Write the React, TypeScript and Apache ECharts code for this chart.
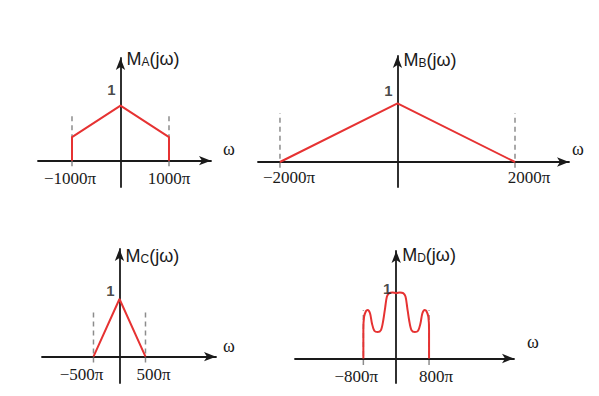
import React, { useEffect, useRef } from "react";
import * as echarts from "echarts";

// ---------- data (ω in units of π, magnitude) ----------
const panelKeys = ["A", "B", "C", "D"];

const omegaA = [-1000, -1000, 0, 1000, 1000];
const magA = [0, 0.43, 1, 0.43, 0];

const omegaB = [-2000, 0, 2000];
const magB = [0, 1, 0];

const omegaC = [-500, 0, 500];
const magC = [0, 1, 0];

const omegaD = [-800, -800, -783, -735, -695, -638, -590, -533, -453, -372, -315, -267, -226, -170, -90, 0, 90, 170, 226, 267, 315, 372, 453, 533, 590, 638, 695, 735, 783, 800, 800];
const magD = [0, 0.43, 0.63, 0.72, 0.735, 0.685, 0.53, 0.42, 0.4, 0.43, 0.58, 0.78, 0.94, 0.99, 1.0, 0.99, 1.0, 0.99, 0.94, 0.78, 0.58, 0.43, 0.4, 0.42, 0.53, 0.685, 0.735, 0.72, 0.63, 0.43, 0];

const ticksA = [-1000, 1000];
const ticksB = [-2000, 2000];
const ticksC = [-500, 500];
const ticksD = [-800, 800];

const tickLabelsA = ["−1000π", "1000π"];
const tickLabelsB = ["−2000π", "2000π"];
const tickLabelsC = ["−500π", "500π"];
const tickLabelsD = ["−800π", "800π"];

const dashTopA = 0.81;
const dashTopB = 0.83;
const dashTopC = 0.81;
const dashTopD = 0.73;
const dashBottom = -0.1;

const peakLabel = "1";

// ---------- layout / styles ----------
const RED = "#e63232";
const AXIS = "#1a1a1a";
const DASH = "#8c8c8c";
const SERIF = "Liberation Serif";
const SANS = "Liberation Sans";

const panels: any = {
  A: { omega: omegaA, mag: magA, ticks: ticksA, tickLabels: tickLabelsA, dashTop: dashTopA,
       left: 38, top: 58, width: 173, height: 129, xMin: -1701, xMax: 1866, yMin: -0.478, yMax: 1.867,
       xNameGap: 12, xNamePad: 3.5, yNameGap: 0, onePos: [-9, -16], labelMargin: 9, negShift: -2, posShift: 0 },
  B: { omega: omegaB, mag: magB, ticks: ticksB, tickLabels: tickLabelsB, dashTop: dashTopB,
       left: 258, top: 56, width: 311, height: 131, xMin: -2374, xMax: 2919, yMin: -0.426, yMax: 1.806,
       xNameGap: 3, xNamePad: 5, yNameGap: -3, onePos: [-9, -13], labelMargin: 7, negShift: 9, posShift: 14 },
  C: { omega: omegaC, mag: magC, ticks: ticksC, tickLabels: tickLabelsC, dashTop: dashTopC,
       left: 42, top: 249, width: 174, height: 134, xMin: -1490, xMax: 1856, yMin: -0.456, yMax: 1.867,
       xNameGap: 7, xNamePad: 2.5, yNameGap: -6, onePos: [-9, -9], labelMargin: 9, negShift: -12, posShift: 8 },
  D: { omega: omegaD, mag: magD, ticks: ticksD, tickLabels: tickLabelsD, dashTop: dashTopD,
       left: 295, top: 251, width: 219, height: 132, xMin: -2465, xMax: 2869, yMin: -0.371, yMax: 1.629,
       xNameGap: 13, xNamePad: 9, yNameGap: -3, onePos: [-9, -4], labelMargin: 9, negShift: -7, posShift: 7, smooth: 0.3 },
};

function shiftPad(s: number) {
  return s >= 0 ? [0, 0, 0, 2 * s] : [0, -2 * s, 0, 0];
}

function buildOption() {
  const grid: any[] = [];
  const xAxis: any[] = [];
  const yAxis: any[] = [];
  const series: any[] = [];
  panelKeys.forEach((k, i) => {
    const p = panels[k];
    grid.push({ left: p.left, top: p.top, width: p.width, height: p.height, outerBoundsMode: "none", containLabel: false });
    const lineBase = {
      show: true,
      symbol: ["none", "arrow"],
      symbolSize: [7, 12],
      lineStyle: { color: AXIS, width: 1.8 },
    };
    // x axis sits on the value-0 line of the y scale
    const zeroFromBottom = (-p.yMin / (p.yMax - p.yMin)) * p.height;
    xAxis.push({
      type: "value",
      gridIndex: i,
      position: "bottom",
      offset: -zeroFromBottom,
      min: p.xMin,
      max: p.xMax,
      axisLine: { ...lineBase, onZero: false },
      axisTick: { show: false },
      splitLine: { show: false },
      axisLabel: {
        show: true,
        customValues: p.ticks,
        margin: p.labelMargin,
        fontFamily: SERIF,
        fontSize: 17,
        color: AXIS,
        formatter: (v: number) => {
          const idx = p.ticks.indexOf(v);
          const t = idx >= 0 ? p.tickLabels[idx] : "";
          return v < 0 ? "{n|" + t + "}" : "{p|" + t + "}";
        },
        rich: {
          n: { fontFamily: SERIF, fontSize: 17, color: AXIS, padding: shiftPad(p.negShift) },
          p: { fontFamily: SERIF, fontSize: 17, color: AXIS, padding: shiftPad(p.posShift) },
        },
      },
      name: "ω",
      nameLocation: "end",
      nameGap: p.xNameGap,
      nameTextStyle: {
        fontFamily: SERIF,
        fontSize: 18,
        color: AXIS,
        align: "left",
        verticalAlign: "bottom",
        lineHeight: 16,
        padding: [0, 0, p.xNamePad, 0],
      },
    });
    yAxis.push({
      type: "value",
      gridIndex: i,
      min: p.yMin,
      max: p.yMax,
      axisLine: { ...lineBase, onZero: true },
      axisTick: { show: false },
      splitLine: { show: false },
      axisLabel: { show: false },
      name: "{m|M}{s|" + k + "}{m|(jω)}",
      nameLocation: "end",
      nameGap: p.yNameGap,
      nameTextStyle: {
        align: "left",
        verticalAlign: "middle",
        padding: [0, 0, 0, 6],
        fontFamily: SANS,
        rich: {
          m: { fontFamily: SANS, fontSize: 18, lineHeight: 20, color: AXIS, verticalAlign: "bottom" },
          s: { fontFamily: SANS, fontSize: 12, lineHeight: 14, color: AXIS, verticalAlign: "bottom" },
        },
      },
    });
    p.ticks.forEach((t: number) => {
      series.push({
        type: "line",
        xAxisIndex: i,
        yAxisIndex: i,
        data: [[t, dashBottom], [t, p.dashTop]],
        symbol: "none",
        silent: true,
        lineStyle: { color: DASH, width: 1.5, type: [5, 4] },
        z: 2,
      });
    });
    series.push({
      type: "line",
      xAxisIndex: i,
      yAxisIndex: i,
      data: p.omega.map((w: number, j: number) => [w, p.mag[j]]),
      symbol: "none",
      smooth: p.smooth || false,
      silent: true,
      lineStyle: { color: RED, width: 2 },
      z: 3,
    });
    series.push({
      type: "scatter",
      xAxisIndex: i,
      yAxisIndex: i,
      data: [[0, 1]],
      symbolSize: 0,
      silent: true,
      label: {
        show: true,
        formatter: peakLabel,
        position: "inside",
        offset: p.onePos,
        fontFamily: SANS,
        fontSize: 15,
        fontWeight: "bold",
        color: AXIS,
      },
      z: 4,
    });
  });
  return { animation: false, backgroundColor: "#ffffff", grid, xAxis, yAxis, series };
}

export default function App() {
  const ref = useRef<HTMLDivElement>(null);
  useEffect(() => {
    if (!ref.current) return;
    const chart = echarts.init(ref.current, undefined, { renderer: "svg" });
    chart.setOption(buildOption() as any);
    return () => chart.dispose();
  }, []);
  return (
    <div
      ref={ref}
      style={{ position: "fixed", left: 0, top: 0, width: 599, height: 396, background: "#fff" }}
    />
  );
}
